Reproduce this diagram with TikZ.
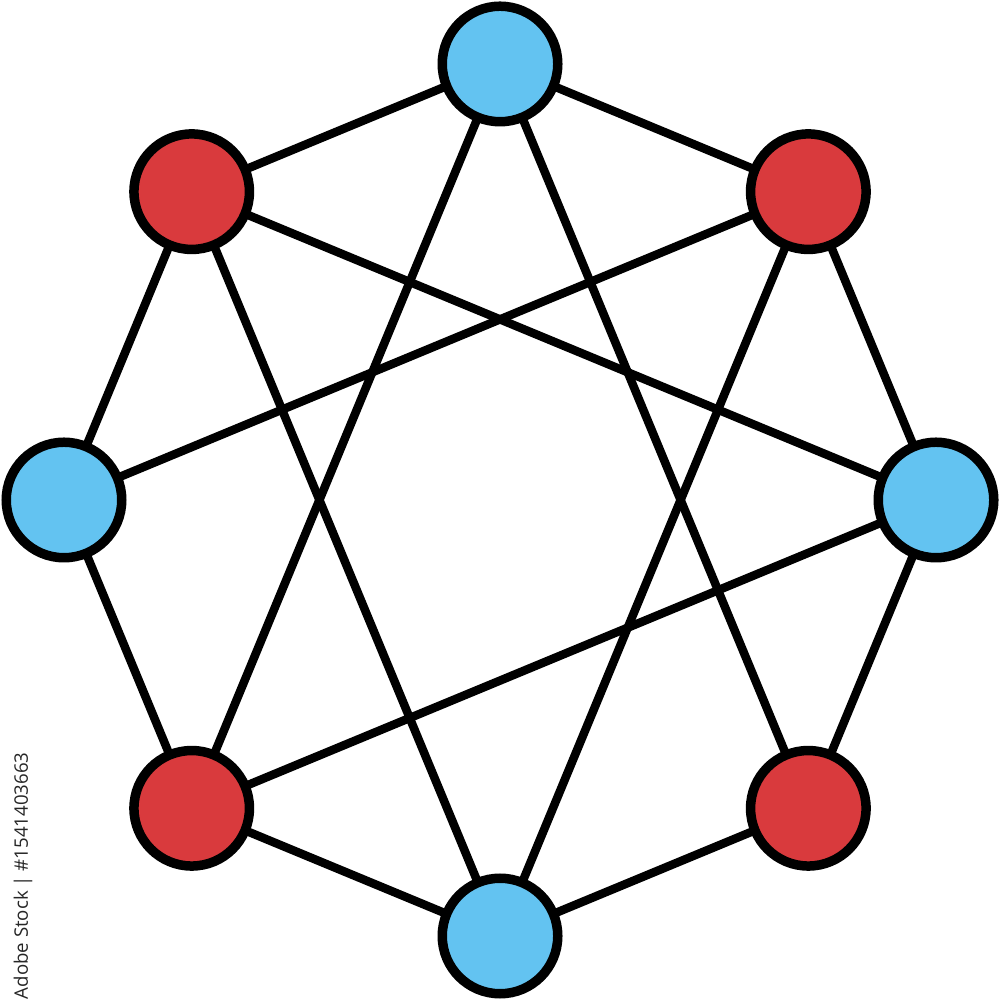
\documentclass[tikz,border=0pt]{standalone}
\usepackage{fontspec}
\setmainfont{Open Sans}
\usetikzlibrary{backgrounds}
\definecolor{nblue}{HTML}{63C3F1}
\definecolor{nred}{HTML}{D93A3D}
\tikzset{
  vtx/.style={circle, draw=black, line width=0.095cm, minimum size=1.155cm, inner sep=0pt},
  bluev/.style={vtx, fill=nblue},
  redv/.style={vtx, fill=nred},
  edge/.style={draw=black, line width=0.085cm},
  wm/.style={font=\fontsize{5.3pt}{6pt}\selectfont, text=black!85, rotate=90, anchor=east, inner sep=0pt}
}
\begin{document}
\begin{tikzpicture}
\useasboundingbox (0,0) rectangle (10,10);
\node[bluev] (n0) at ({5+4.36*cos(90)},{5+4.36*sin(90)}) {};
\node[redv]  (n1) at ({5+4.36*cos(45)},{5+4.36*sin(45)}) {};
\node[bluev] (n2) at ({5+4.36*cos(0)},{5+4.36*sin(0)}) {};
\node[redv]  (n3) at ({5+4.36*cos(-45)},{5+4.36*sin(-45)}) {};
\node[bluev] (n4) at ({5+4.36*cos(-90)},{5+4.36*sin(-90)}) {};
\node[redv]  (n5) at ({5+4.36*cos(-135)},{5+4.36*sin(-135)}) {};
\node[bluev] (n6) at ({5+4.36*cos(180)},{5+4.36*sin(180)}) {};
\node[redv]  (n7) at ({5+4.36*cos(135)},{5+4.36*sin(135)}) {};
\begin{scope}[on background layer]
\fill[white] (0,0) rectangle (10,10);
\foreach \a/\b in {n0/n1,n1/n2,n2/n3,n3/n4,n4/n5,n5/n6,n6/n7,n7/n0,
                   n0/n3,n1/n4,n2/n5,n4/n7,n5/n0,n6/n1,n7/n2}
  \draw[edge] (\a.center) -- (\b.center);
\end{scope}
\node[wm] (wmark) at (0.23,2.48) {Adobe Stock | \#1541403663};
\end{tikzpicture}
\end{document}
